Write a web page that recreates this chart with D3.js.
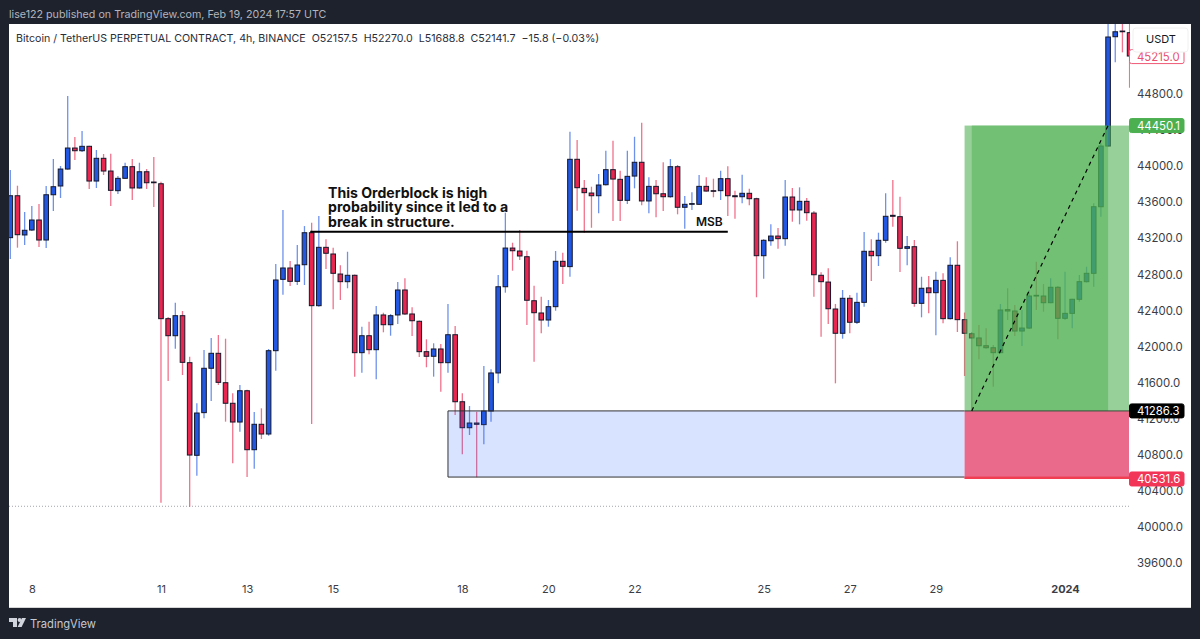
<!doctype html>
<html>
<head>
  <meta charset="utf-8">
  <script src="https://cdnjs.cloudflare.com/ajax/libs/d3/7.8.5/d3.min.js"></script>
  <style>
    html, body { margin: 0; padding: 0; background: #1e222d; overflow: hidden; }
    svg { display: block; font-family: Inter, "Liberation Sans", sans-serif; }
  </style>
</head>
<body>
<svg id="chart" width="1200" height="639"></svg>
<script>
  // BTCUSDT perp 4h, prices
  var opens = [
    43207,43672,43237,43292,43403,43181,43683,43780,43968,44201,
    44171,44220,43835,44087,43946,43728,43865,43994,43758,43938,
    43824,43805,42309,42120,42342,41821,40794,41267,41759,41925,
    41599,41371,41163,41510,40856,41138,41030,41954,42745,42871,
    42723,42907,43262,42453,43100,43026,42804,42719,42790,41932,
    42120,41965,42350,42242,42350,42627,42361,42280,41943,41892,
    41973,41821,42131,41388,41100,41152,41134,41285,41707,42663,
    43092,43059,42996,42508,42372,42294,42442,42945,42886,44076,
    43754,43702,43672,43794,43961,43854,43621,43890,44043,43614,
    43776,43694,43661,43994,43544,43577,43577,43776,43728,43728,
    43861,43672,43661,43699,43639,43007,43173,43225,43196,43658,
    43514,43610,43480,42790,42715,42416,42147,42535,42269,42490,
    43056,43007,43178,43455,43440,43089,43107,42479,42650,42597,
    42734,42309,42901,42298,42142,42095,42009,41987,41932,42409,
    42394,42172,42205,42568,42560,42486,42657,42313,42368,42524,
    42719,42812,43550,44223,45435,45498,45480
  ];
  var highs = [
    43957,43783,43492,43558,43580,43780,44079,44002,44778,44323,
    44390,44225,44179,44135,44138,43891,44038,44079,44038,43968,
    44101,43827,42327,42486,42394,41887,41371,41962,42095,42128,
    42087,41481,41574,41520,41274,41315,41973,42915,43514,42948,
    43126,43336,43373,43447,43189,43096,42901,43051,42800,42220,
    42275,42449,42375,42361,42715,42756,42435,42290,42080,42036,
    42028,42472,42228,41481,41341,41278,41784,41748,42793,43484,
    43151,43292,43062,42674,42553,42516,43059,43040,44382,44290,
    43846,43772,43913,44171,44282,43949,44171,44326,44482,43876,
    43846,44043,44079,44013,43669,43710,43902,43876,43861,43949,
    43998,43728,43905,43750,43650,43190,43355,43314,43846,43758,
    43765,43647,43503,42823,42867,42472,42627,42571,42597,43270,
    43189,43262,43699,43846,43661,43225,43181,42774,42782,42830,
    42812,42989,43167,42377,42161,42239,42202,42017,42472,42646,
    42460,42405,42627,42941,42693,42756,42670,42830,42530,42793,
    42885,43588,44253,45700,45700,45700,45700
  ];
  var lows = [
    42970,43096,43126,43280,43104,43092,43503,43647,43960,44068,
    44157,43747,43758,43902,43558,43691,43860,43625,43750,43747,
    43547,40269,41618,41976,41684,40224,40568,41204,41396,41574,
    41167,40705,41056,40553,40646,40975,41011,41732,42575,42671,
    42682,42682,41141,42440,42860,42413,42516,42646,41666,41710,
    41914,41637,42158,42120,42250,42350,42117,41884,41770,41666,
    41499,41710,41241,40805,41019,40550,40916,41167,41592,42597,
    42841,42959,42239,41832,42147,42220,42397,42693,42774,43506,
    43262,43317,43477,43785,43392,43392,43580,43754,43566,43477,
    43433,43503,43650,43466,43306,43514,43570,43715,43655,43625,
    43447,43417,43588,43566,42546,42752,43118,43085,43118,43384,
    43355,43395,42553,42109,42250,41592,42087,42147,42250,42442,
    42727,42893,43151,43329,42826,42901,42442,42324,42368,42124,
    42258,42300,42161,41673,41296,41858,41975,41555,41925,42294,
    42117,42006,42195,42405,42386,42480,42080,42294,42202,42497,
    42710,42663,43440,44220,45151,45262,44870
  ];
  var closes = [
    43672,43240,43289,43403,43181,43683,43772,43968,44201,44171,
    44220,43835,44087,43946,43732,43865,43994,43758,43938,43816,
    43816,42309,42120,42342,41825,40797,41263,41759,41925,41603,
    41371,41163,41510,40856,41138,41030,41954,42738,42871,42723,
    42904,43262,42453,43100,43034,42812,42719,42790,41932,42120,
    41965,42350,42242,42342,42627,42361,42286,41943,41892,41973,
    41821,42131,41388,41100,41152,41138,41285,41707,42663,43092,
    43062,43004,42513,42375,42294,42442,42945,42890,44076,43761,
    43706,43672,43791,43961,43857,43621,43887,44043,43614,43776,
    43694,43661,43994,43544,43577,43585,43776,43724,43721,43861,
    43672,43661,43699,43639,43007,43178,43225,43196,43658,43514,
    43610,43484,42796,42719,42419,42147,42535,42269,42490,43056,
    43007,43178,43444,43444,43089,43107,42479,42646,42597,42734,
    42309,42901,42298,42147,42095,42009,41987,41932,42405,42394,
    42172,42205,42560,42560,42486,42657,42313,42368,42524,42719,
    42812,43550,44223,45432,45490,45490,45221
  ];
  var priceTicks = [39600,40000,40400,40800,41200,41600,42000,42400,42800,43200,43600,44000,44400,44800];
  var dayIndex = [3,21,33,45,63,75,87,105,117,129,147];
  var dayLabels = ["8","11","13","15","18","20","22","25","27","29","2024"];

  var takeProfit = 44450.1, entry = 41286.3, stopLoss = 40531.6, lastPrice = 45215.0;
  var obBottom = 40553, swingLow = 40229, msbLevel = 43272;

  var UP = "#2157e2", DOWN = "#e8264f";

  var svg = d3.select("#chart");
  var paneL = 9, paneR = 1129, paneT = 24, paneB = 607;

  var x = d3.scaleLinear().domain([0, 156]).range([10.3, 1129.6]);
  var y = d3.scaleLinear().domain([44800, 39600]).range([94, 563]);

  // frame
  svg.append("rect").attr("x", paneL).attr("y", paneT).attr("width", 1182).attr("height", paneB - paneT + 1).attr("fill", "#d6d6d6");
  svg.append("rect").attr("x", paneL).attr("y", paneT).attr("width", 1182).attr("height", paneB - paneT).attr("fill", "#ffffff");

  svg.append("text").attr("x", 9).attr("y", 18).attr("fill", "#b2b5be").attr("font-size", 10.7)
    .text("lise122 published on TradingView.com, Feb 19, 2024 17:57 UTC");
  svg.append("text").attr("x", 16).attr("y", 42).attr("fill", "#2a2e39").attr("font-size", 10.65).attr("xml:space", "preserve")
    .text("Bitcoin / TetherUS PERPETUAL CONTRACT, 4h, BINANCE  O52157.5  H52270.0  L51688.8  C52141.7  \u221215.8 (\u22120.03%)");

  svg.append("defs").append("clipPath").attr("id", "pane").append("rect")
    .attr("x", paneL).attr("y", paneT).attr("width", paneR + 1 - paneL).attr("height", paneB - paneT);

  var pane = svg.append("g").attr("clip-path", "url(#pane)");

  // dotted low
  pane.append("line").attr("x1", paneL).attr("x2", paneR).attr("y1", y(swingLow)).attr("y2", y(swingLow))
    .attr("stroke", "#8a8e99").attr("stroke-width", 0.8).attr("stroke-dasharray", "1 2");

  var candles = pane.selectAll("g.candle").data(d3.range(opens.length)).enter().append("g").attr("class", "candle");
  function col(i) { return closes[i] >= opens[i] ? UP : DOWN; }
  candles.append("line")
    .attr("x1", function(i) { return x(i); }).attr("x2", function(i) { return x(i); })
    .attr("y1", function(i) { return y(highs[i]); }).attr("y2", function(i) { return y(lows[i]); })
    .attr("stroke", col).attr("stroke-opacity", 0.65).attr("stroke-width", 1.3);
  candles.append("rect")
    .attr("x", function(i) { return x(i) - 2.3; }).attr("width", 4.6)
    .attr("y", function(i) { return y(Math.max(opens[i], closes[i])); })
    .attr("height", function(i) { return Math.abs(y(opens[i]) - y(closes[i])); })
    .attr("fill", col).attr("stroke", "#14172a").attr("stroke-width", 1);

  // MSB line
  pane.append("line").attr("x1", x(41.8)).attr("x2", x(100)).attr("y1", y(msbLevel)).attr("y2", y(msbLevel))
    .attr("stroke", "#000").attr("stroke-width", 2);

  // order block, the right edge stays hidden behind the stop zone
  pane.append("rect").attr("x", x(61)).attr("width", x(133) - x(61))
    .attr("y", y(entry)).attr("height", y(obBottom) - y(entry))
    .attr("fill", "#2962ff").attr("fill-opacity", 0.18);
  pane.append("path")
    .attr("d", d3.line()([[x(133), y(entry)], [x(61), y(entry)], [x(61), y(obBottom)], [x(133), y(obBottom)]]))
    .attr("fill", "none").attr("stroke", "#333").attr("stroke-width", 1);

  // long position tool
  pane.append("rect").attr("x", x(133)).attr("width", paneR - x(133))
    .attr("y", y(takeProfit)).attr("height", y(entry) - y(takeProfit))
    .attr("fill", "#4caf50").attr("fill-opacity", 0.58);
  pane.append("rect").attr("x", x(134)).attr("width", x(153) - x(134))
    .attr("y", y(takeProfit)).attr("height", y(entry) - y(takeProfit))
    .attr("fill", "#4caf50").attr("fill-opacity", 0.5);
  pane.append("rect").attr("x", x(133)).attr("width", paneR - x(133))
    .attr("y", y(entry)).attr("height", y(stopLoss) - y(entry))
    .attr("fill", "#e02b5a").attr("fill-opacity", 0.7);
  pane.append("rect").attr("x", x(133)).attr("width", paneR - x(133))
    .attr("y", y(stopLoss) - 2.4).attr("height", 2.4)
    .attr("fill", "#f23645").attr("fill-opacity", 0.85);
  pane.append("line").attr("x1", x(133)).attr("x2", paneR).attr("y1", y(entry)).attr("y2", y(entry))
    .attr("stroke", "#33503a").attr("stroke-width", 1);
  pane.append("line").attr("x1", x(134)).attr("x2", x(153)).attr("y1", y(entry)).attr("y2", y(takeProfit))
    .attr("stroke", "#000").attr("stroke-width", 1.2).attr("stroke-dasharray", "4 4");

  // annotation
  var note = ["This Orderblock is high", "probability since it led to a", "break in structure."];
  svg.selectAll("text.note").data(note).enter().append("text").attr("class", "note")
    .attr("x", 328).attr("y", function(d, i) { return 198 + i * 14.3; })
    .attr("fill", "#111").attr("font-size", 14.1).attr("font-weight", 700).text(function(d) { return d; });
  svg.append("text").attr("x", 696).attr("y", 226).attr("fill", "#111").attr("font-size", 12).attr("font-weight", 600).text("MSB");

  // axes
  var yAxis = d3.axisRight(y).tickValues(priceTicks).tickSize(0).tickPadding(8).tickFormat(d3.format(".1f"));
  var gy = svg.append("g").attr("transform", "translate(" + paneR + ",0)").call(yAxis);
  gy.select(".domain").remove();
  gy.selectAll("text").attr("font-family", "Inter, sans-serif").attr("font-size", 11.4).attr("fill", "#3a3d46");

  var xAxis = d3.axisBottom(x).tickValues(dayIndex).tickSize(0).tickPadding(0)
    .tickFormat(function(d, i) { return dayLabels[i]; });
  var gx = svg.append("g").attr("transform", "translate(0,585)").call(xAxis);
  gx.select(".domain").remove();
  gx.selectAll("text").attr("font-family", "Inter, sans-serif").attr("font-size", 11).attr("fill", "#3a3d46")
    .attr("font-weight", function(d, i) { return dayLabels[i] === "2024" ? 700 : 400; });

  // price tags
  function tag(price, fill, stroke, color, h) {
    var g = svg.append("g").attr("transform", "translate(" + (paneR + 0.5) + "," + y(price) + ")");
    g.append("rect").attr("x", 0).attr("y", -h / 2).attr("width", 54.5).attr("height", h).attr("rx", 2)
      .attr("fill", fill).attr("stroke", stroke);
    g.append("text").attr("x", 7.5).attr("y", 4).attr("font-size", 11.4).attr("fill", color)
      .text(d3.format(".1f")(price));
  }
  tag(lastPrice, "#fff", "#ef5a78", "#ea4f70", 14);
  tag(takeProfit, "#4caf50", "#4caf50", "#fff", 14);
  tag(entry, "#000", "#000", "#fff", 14);
  tag(stopLoss, "#f23658", "#f23658", "#fff", 14);

  // currency button
  svg.append("rect").attr("x", 1133).attr("y", 28).attr("width", 55).attr("height", 24).attr("rx", 3)
    .attr("fill", "#fff").attr("stroke", "#f0f0f0");
  svg.append("text").attr("x", 1161).attr("y", 43).attr("text-anchor", "middle").attr("font-size", 11).attr("fill", "#131722").text("USDT");

  // footer
  var logo = svg.append("g").attr("transform", "translate(9,618)").attr("fill", "#d1d4dc");
  logo.append("path").attr("d", "M0 0H8V9H4V4H0Z");
  logo.append("circle").attr("cx", 10.6).attr("cy", 2).attr("r", 2);
  logo.append("path").attr("d", "M13 0H17L12.6 9H8.6Z");
  svg.append("text").attr("x", 30).attr("y", 628).attr("fill", "#c5c8d0").attr("font-size", 11.2).text("TradingView");
</script>
</body>
</html>
